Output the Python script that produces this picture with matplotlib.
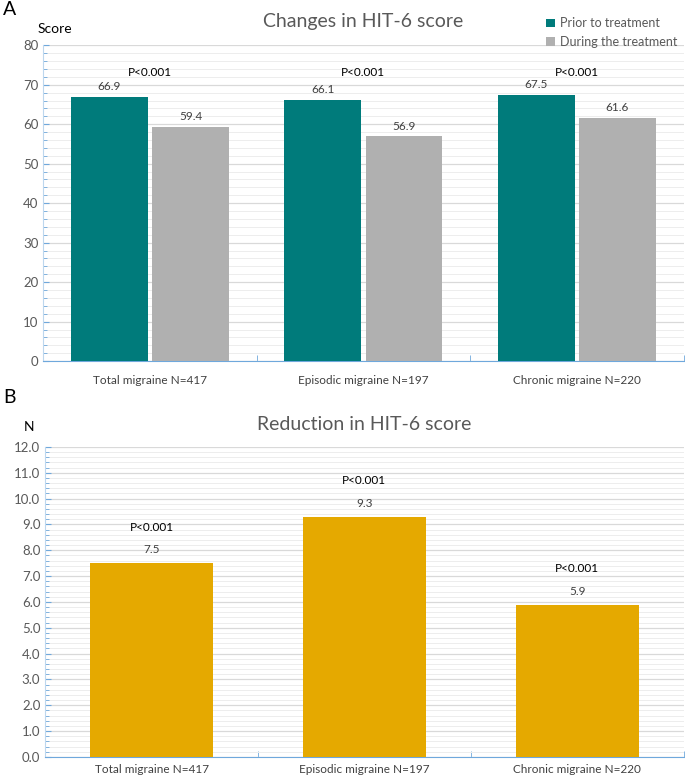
import numpy as np
import matplotlib.pyplot as plt
from matplotlib.ticker import MultipleLocator, FormatStrFormatter

plt.rcParams['font.family'] = ['Lato', 'DejaVu Sans']

categories = ["Total migraine N=417", "Episodic migraine N=197", "Chronic migraine N=220"]
prior = [66.9, 66.1, 67.5]
during = [59.4, 56.9, 61.6]
reduction = [7.5, 9.3, 5.9]
p_labels = ["P<0.001", "P<0.001", "P<0.001"]

teal = "#007b7b"
grey = "#b0b0b0"
gold = "#e5a900"
axis_blue = "#6fa8dc"
text_grey = "#595959"


def style_axis(ax, ymax, major, minor, xpad):
    ax.set_xlim(-0.5, 2.5)
    ax.set_ylim(0, ymax)
    ax.yaxis.set_major_locator(MultipleLocator(major))
    ax.yaxis.set_minor_locator(MultipleLocator(minor))
    ax.grid(axis='y', which='major', color='#d9d9d9', lw=0.9, zorder=0)
    ax.grid(axis='y', which='minor', color='#ededed', lw=0.7, zorder=0)
    ax.set_axisbelow(True)
    for s in ['top', 'right']:
        ax.spines[s].set_visible(False)
    ax.spines['left'].set_color("#bdd7ee")
    ax.spines['bottom'].set_color(axis_blue)
    ax.tick_params(axis='y', which='both', colors=axis_blue, labelcolor=text_grey,
                   labelsize=9.5, length=4, direction='in')
    ax.tick_params(axis='y', which='minor', length=3)
    ax.set_xticks(np.arange(-0.5, 2.6, 0.5), minor=True)
    ax.set_xticks(np.arange(3))
    ax.set_xticklabels(categories, fontsize=8.5, color='#404040')
    ax.tick_params(axis='x', which='major', length=0, pad=xpad)
    ax.tick_params(axis='x', which='minor', colors=axis_blue, length=4, direction='in')


fig = plt.figure(figsize=(6.85, 7.8), dpi=100)

# panel A
ax1 = fig.add_axes([0.063, 0.537, 0.935, 0.405])
x = np.arange(len(categories))
w = 0.36
ax1.bar(x - w / 2 - 0.01, prior, w, color=teal, label="Prior to treatment", zorder=3)
ax1.bar(x + w / 2 + 0.01, during, w, color=grey, label="During the treatment", zorder=3)
style_axis(ax1, 80, 10, 2, 10)
for i in range(len(categories)):
    ax1.text(x[i] - w / 2 - 0.01, prior[i] + 1.2, f"{prior[i]:.1f}", ha='center', va='bottom',
             fontsize=8.5, color='#404040')
    ax1.text(x[i] + w / 2 + 0.01, during[i] + 1.2, f"{during[i]:.1f}", ha='center', va='bottom',
             fontsize=8.5, color='#404040')
    ax1.text(x[i], 73.2, p_labels[i], ha='center', va='center', fontsize=8.5, color='black')
ax1.set_title("Changes in HIT-6 score", fontsize=14, color=text_grey, pad=13)
fig.text(0.055, 0.963, "Score", fontsize=10, color='black', ha='left', va='center')
fig.text(0.005, 0.988, "A", fontsize=14, color='black', ha='left', va='center')
leg = fig.legend(loc='upper right', bbox_to_anchor=(1.005, 0.992), fontsize=9, frameon=False,
                 handlelength=0.7, handleheight=0.7, handletextpad=0.4, labelspacing=0.5)
for t in leg.get_texts():
    t.set_color(text_grey)

# panel B
ax2 = fig.add_axes([0.066, 0.0295, 0.932, 0.3975])
ax2.bar(x, reduction, 0.58, color=gold, zorder=3)
style_axis(ax2, 12, 1, 0.2, 5)
ax2.yaxis.set_major_formatter(FormatStrFormatter('%.1f'))
for i in range(len(categories)):
    ax2.text(x[i], reduction[i] + 0.3, f"{reduction[i]:.1f}", ha='center', va='bottom',
             fontsize=8.5, color='#404040')
    ax2.text(x[i], reduction[i] + 1.4, p_labels[i], ha='center', va='center',
             fontsize=8.5, color='black')
ax2.set_title("Reduction in HIT-6 score", fontsize=14, color=text_grey, pad=12)
fig.text(0.035, 0.453, "N", fontsize=10, color='black', ha='left', va='center')
fig.text(0.005, 0.49, "B", fontsize=14, color='black', ha='left', va='center')

fig.savefig("out.png", dpi=100)
